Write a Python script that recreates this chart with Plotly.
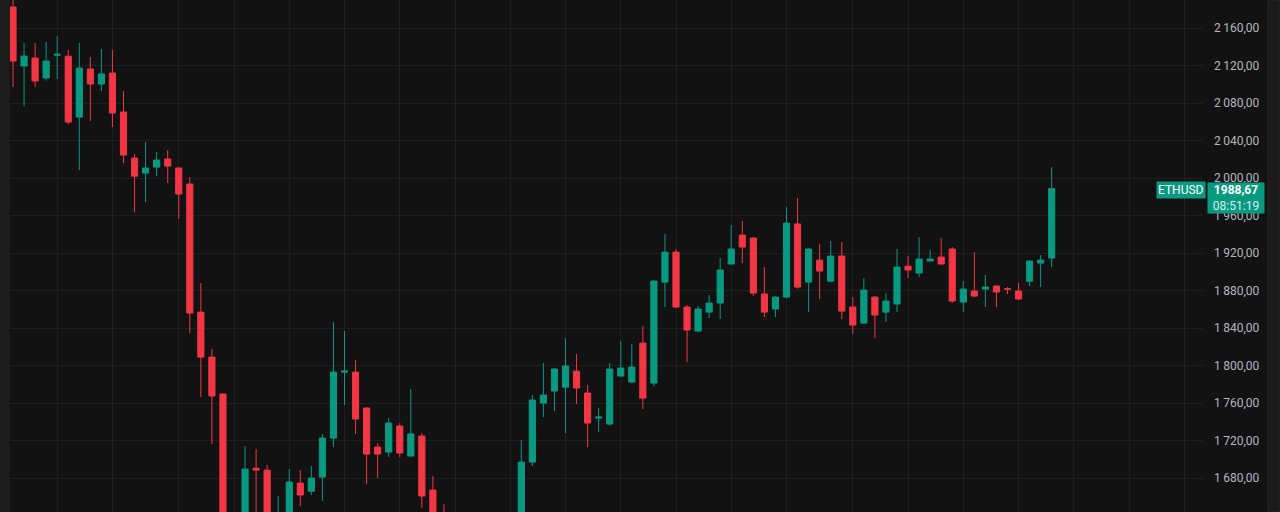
import plotly.graph_objects as go

# ---- data ----
opens = [2182.4, 2119.5, 2128.0, 2106.7, 2131.0, 2130.0, 2065.0, 2116.3, 2100.3, 2112.0,
         2070.4, 2021.3, 2005.3, 2011.7, 2020.3, 2010.7, 1993.6, 1857.0, 1809.0, 1769.6,
         1592.0, 1610.0, 1690.5, 1688.5, 1622.0, 1636.0, 1674.7, 1666.0, 1681.0, 1722.7,
         1793.0, 1793.0, 1754.7, 1713.0, 1707.7, 1735.5, 1703.5, 1724.8, 1667.2, 1630.0,
         1615.0, 1600.0, 1620.0, 1605.0, 1615.0, 1622.0, 1630.0, 1697.0, 1760.0, 1772.8,
         1777.0, 1794.0, 1770.7, 1744.0, 1737.6, 1788.8, 1782.4, 1824.0, 1781.3, 1889.0,
         1921.0, 1862.4, 1836.8, 1857.0, 1866.7, 1908.3, 1939.2, 1936.0, 1876.3, 1860.3,
         1873.0, 1951.0, 1889.0, 1912.5, 1890.0, 1916.8, 1862.4, 1845.3, 1873.0, 1857.0,
         1865.6, 1906.0, 1898.7, 1911.5, 1915.7, 1924.3, 1867.7, 1879.5, 1881.6, 1884.8,
         1882.0, 1879.5, 1890.0, 1909.3, 1914.7]
highs = [2195.0, 2144.0, 2144.0, 2145.0, 2151.5, 2136.5, 2144.0, 2129.0, 2137.6, 2136.5,
         2092.8, 2025.6, 2038.4, 2027.7, 2029.9, 2011.5, 2001.0, 1888.0, 1817.6, 1770.5,
         1625.0, 1714.0, 1711.0, 1694.0, 1661.0, 1689.6, 1688.5, 1692.8, 1727.0, 1846.4,
         1836.8, 1805.9, 1755.5, 1717.3, 1744.0, 1738.7, 1775.0, 1728.0, 1682.0, 1652.0,
         1638.0, 1630.0, 1635.0, 1625.0, 1632.0, 1640.0, 1720.5, 1768.5, 1802.7, 1797.0,
         1829.3, 1812.3, 1779.2, 1754.7, 1802.7, 1826.0, 1823.0, 1842.1, 1891.0, 1940.3,
         1924.3, 1864.5, 1863.5, 1875.2, 1914.7, 1949.9, 1954.1, 1937.0, 1905.0, 1874.0,
         1969.0, 1978.7, 1925.0, 1929.6, 1932.8, 1931.7, 1873.0, 1893.3, 1874.0, 1877.3,
         1924.3, 1916.8, 1937.0, 1923.2, 1936.0, 1926.4, 1890.1, 1921.0, 1896.5, 1885.5,
         1883.7, 1888.0, 1912.0, 1917.9, 2011.7]
lows = [2097.0, 2076.8, 2097.0, 2104.0, 2105.6, 2057.6, 2008.5, 2060.8, 2092.8, 2054.4,
        2016.0, 1963.7, 1974.4, 2002.0, 1994.7, 1956.3, 1834.7, 1766.4, 1716.3, 1560.0,
        1540.0, 1598.0, 1630.0, 1600.0, 1600.0, 1628.0, 1650.0, 1661.9, 1655.5, 1713.0,
        1757.9, 1727.0, 1673.6, 1680.0, 1702.4, 1702.4, 1702.5, 1648.0, 1615.0, 1600.0,
        1585.0, 1570.0, 1590.0, 1575.0, 1595.0, 1605.0, 1620.0, 1692.8, 1745.0, 1751.5,
        1728.0, 1759.0, 1713.0, 1729.0, 1736.0, 1788.0, 1781.0, 1753.6, 1778.0, 1862.4,
        1862.0, 1803.7, 1836.0, 1850.7, 1849.6, 1908.0, 1909.3, 1874.0, 1851.7, 1851.7,
        1872.0, 1882.0, 1857.0, 1871.0, 1889.0, 1849.6, 1833.6, 1844.3, 1829.3, 1846.4,
        1857.0, 1893.3, 1894.4, 1911.0, 1908.0, 1866.7, 1857.0, 1873.0, 1862.4, 1862.4,
        1876.3, 1870.0, 1884.8, 1883.7, 1905.0]
closes = [2124.8, 2130.1, 2103.5, 2124.8, 2132.0, 2059.7, 2117.3, 2100.3, 2111.0, 2069.3,
          2024.5, 2002.0, 2010.7, 2019.2, 2012.8, 1983.0, 1856.0, 1809.0, 1767.5, 1590.0,
          1610.0, 1689.6, 1688.5, 1625.0, 1636.0, 1675.7, 1661.9, 1680.0, 1722.7, 1793.0,
          1794.0, 1743.0, 1705.6, 1705.6, 1738.7, 1706.7, 1727.0, 1660.8, 1630.0, 1615.0,
          1600.0, 1620.0, 1605.0, 1615.0, 1622.0, 1630.0, 1697.0, 1763.2, 1768.5, 1796.3,
          1799.5, 1776.0, 1738.7, 1745.0, 1796.3, 1797.3, 1798.4, 1765.3, 1890.1, 1921.0,
          1862.4, 1837.9, 1860.3, 1866.7, 1901.9, 1924.3, 1926.4, 1877.3, 1857.0, 1873.0,
          1952.0, 1883.7, 1924.3, 1900.8, 1916.8, 1858.1, 1843.2, 1880.5, 1853.9, 1868.8,
          1905.0, 1901.9, 1913.6, 1913.6, 1908.3, 1868.8, 1881.6, 1874.1, 1883.7, 1878.4,
          1881.6, 1871.0, 1911.5, 1912.5, 1988.67]
bar_index = list(range(len(closes)))

price_ticks = [1640, 1680, 1720, 1760, 1800, 1840, 1880, 1920, 1960, 2000, 2040, 2080, 2120, 2160]
time_grid = [4, 9, 15, 20, 25, 30, 35, 40, 45, 50, 55, 60, 65, 70, 76, 81, 86, 91, 96, 101, 106]

symbol = "ETHUSD"
countdown = "08:51:19"


def fmt_tick(v):
    s = f"{v:,.2f}"
    return s.replace(",", "\u2009").replace(".", ",")


def fmt_last(v):
    return f"{v:.2f}".replace(".", ",")


UP = "#089981"
DOWN = "#F23645"
BG = "#121212"
GRID = "#1f1f1f"

fig = go.Figure(go.Candlestick(
    x=bar_index, open=opens, high=highs, low=lows, close=closes,
    increasing=dict(line=dict(color=UP, width=1), fillcolor=UP),
    decreasing=dict(line=dict(color=DOWN, width=1), fillcolor=DOWN),
    whiskerwidth=0, hoverinfo="skip", showlegend=False,
))

W, H = 1280, 512
L_M, R_M = 10, 77
plot_w = W - L_M - R_M
spacing = 11.05
x0 = -3 / spacing
x1 = x0 + plot_w / spacing

fig.update_layout(
    width=W, height=H,
    margin=dict(l=L_M, r=R_M, t=0, b=0, pad=0),
    paper_bgcolor=BG, plot_bgcolor=BG,
    boxgap=0.2,
    hovermode=False,
    font=dict(family="Roboto, 'Noto Sans', sans-serif", size=12, color="#b2b5be"),
    xaxis=dict(
        range=[x0, x1], rangeslider=dict(visible=False),
        tickvals=time_grid, showticklabels=False, ticks="",
        showgrid=True, gridcolor=GRID, gridwidth=1,
        zeroline=False, showline=False, fixedrange=True,
    ),
    yaxis=dict(
        side="right", range=[1643.8, 2189.9],
        tickvals=price_ticks, ticktext=[fmt_tick(v) for v in price_ticks],
        ticks="", ticklabelstandoff=10,
        showgrid=True, gridcolor=GRID, gridwidth=1,
        zeroline=False, showline=False,
        tickfont=dict(size=12, color="#b2b5be"),
    ),
)

# side strips of the chart frame
fig.add_shape(type="rect", xref="paper", yref="paper",
              x0=-L_M / plot_w, x1=0, y0=0, y1=1,
              fillcolor="#1c1c1c", line=dict(width=0), layer="below")
fig.add_shape(type="rect", xref="paper", yref="paper",
              x0=(1268 - L_M) / plot_w, x1=(W - L_M) / plot_w, y0=0, y1=1,
              fillcolor="#1a1a1a", line=dict(width=1, color="#262626"), layer="below")

last = closes[-1]
fig.add_annotation(
    x=1, xref="paper", xanchor="right", xshift=3,
    y=last, yref="y", yanchor="middle", yshift=-1,
    text=symbol, showarrow=False,
    font=dict(size=12, color="#ffffff", family="Roboto, sans-serif"),
    bgcolor=UP, borderpad=1,
)
fig.add_annotation(
    x=(1207 - L_M) / plot_w, xref="paper", xanchor="left",
    y=last, yref="y", yanchor="top", yshift=7,
    text=f"<b>{fmt_last(last)}</b><br><span style='color:#d6f0ea'>{countdown}</span>",
    showarrow=False, align="center", width=56,
    font=dict(size=12, color="#ffffff", family="Roboto, sans-serif"),
    bgcolor=UP, borderpad=0,
)

fig.write_html(
    "out.html",
    config={"displayModeBar": False, "staticPlot": True},
    post_script="document.body.style.margin='0';document.body.style.background='#121212';",
)
